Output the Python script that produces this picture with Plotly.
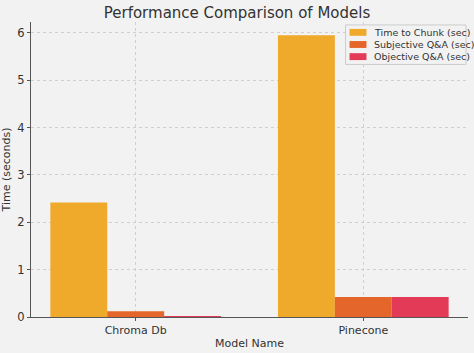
import plotly.graph_objects as go

categories = ["Chroma Db", "Pinecone"]
series_names = ["Time to Chunk (sec)", "Subjective Q&A (sec)", "Objective Q&A (sec)"]
time_to_chunk = [2.42, 5.95]
subjective_qa = [0.12, 0.42]
objective_qa = [0.02, 0.42]
colors = ["#EFA92B", "#E5662A", "#E23A57"]

W, H = 474, 353
ML, MR, MT, MB = 29, 6, 22, 32
PW, PH = W - ML - MR, H - MT - MB

def px(x):
    return (x - ML) / PW

def py(y):
    return (H - MB - y) / PH

fig = go.Figure()
for name, vals, c in zip(series_names, [time_to_chunk, subjective_qa, objective_qa], colors):
    fig.add_trace(go.Bar(x=categories, y=vals, name=name, showlegend=False,
                         marker=dict(color=c, line=dict(width=0))))

# manual legend (matplotlib-like compact box)
shapes = [dict(type="rect", xref="paper", yref="paper",
               x0=px(345), x1=px(466), y0=py(65), y1=py(25),
               fillcolor="#F2F2F2", line=dict(color="#CCCCCC", width=1), layer="above")]
annotations = []
for i, (name, c) in enumerate(zip(series_names, colors)):
    yc = 32.5 + i * 12.3
    shapes.append(dict(type="rect", xref="paper", yref="paper",
                       x0=px(349), x1=px(366), y0=py(yc + 3.5), y1=py(yc - 3.5),
                       fillcolor=c, line=dict(width=0), layer="above"))
    annotations.append(dict(text=name, xref="paper", yref="paper", x=px(372), y=py(yc),
                            xanchor="left", yanchor="middle", showarrow=False,
                            font=dict(size=9.5, color="#333333")))

font = "DejaVu Sans"
fig.update_layout(
    width=W, height=H,
    margin=dict(l=ML, r=MR, t=MT, b=MB),
    paper_bgcolor="#F2F2F2",
    plot_bgcolor="#F2F2F2",
    barmode="group",
    bargap=0.25,
    bargroupgap=0,
    showlegend=False,
    shapes=shapes,
    annotations=annotations,
    font=dict(family=font, size=11, color="#333333"),
    title=dict(text="Performance Comparison of Models", x=0.5, xanchor="center",
               y=0.965, yanchor="middle", font=dict(size=15, color="#333333")),
    xaxis=dict(range=[-0.46, 1.46], showline=True, linecolor="#555555", linewidth=1.3,
               showgrid=True, gridcolor="#D0D0D0", griddash="dot", gridwidth=1,
               ticks="outside", ticklen=3, tickcolor="#555555",
               title=dict(text="Model Name", standoff=2, font=dict(size=11))),
    yaxis=dict(range=[0, 6.23], showline=True, linecolor="#555555", linewidth=1.3,
               showgrid=True, gridcolor="#D0D0D0", griddash="dot", gridwidth=1,
               ticks="outside", ticklen=3, tickcolor="#555555", dtick=1,
               zeroline=False, tickfont=dict(size=11.5),
               title=dict(text="Time (seconds)", standoff=4, font=dict(size=11))),
)
fig.write_html("out.html")
